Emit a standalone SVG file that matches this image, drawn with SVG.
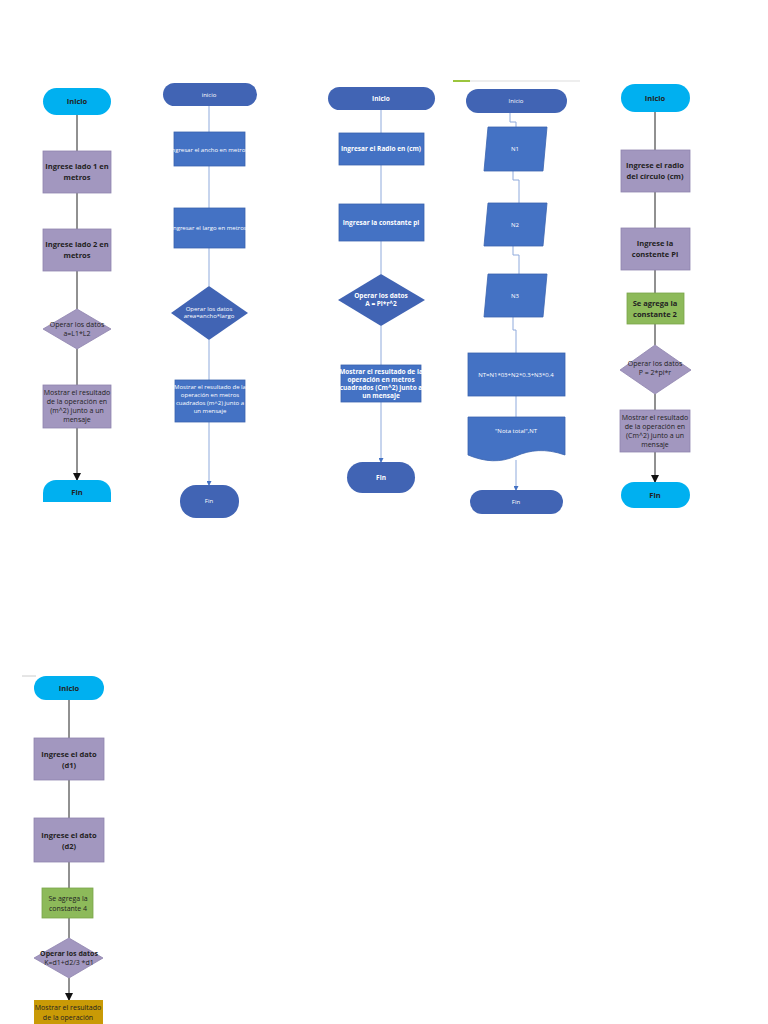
<svg xmlns="http://www.w3.org/2000/svg" width="768" height="1024" viewBox="0 0 768 1024">
<style>
text{font-family:"Open Sans","Liberation Sans",sans-serif;text-anchor:middle}
.cy{fill:#00B0F0}.pu{fill:#A297BF;stroke:#8F84AE;stroke-width:0.8}.gr{fill:#8DBA5A;stroke:#7AA64A;stroke-width:0.8}.or{fill:#C99A06}
.bl{fill:#4472C4;stroke:#3A63AE;stroke-width:0.8}.db{fill:#4164B4}
.tk{font-size:7.5px;font-weight:bold;fill:#222}.tn{font-size:7px;fill:#222}.tw{font-size:6px;fill:#fff}.twb{font-size:6.5px;fill:#fff;font-weight:bold}
.k{stroke:#222;stroke-width:1;fill:none;marker-end:url(#ak)}.b{stroke:#8FAADC;stroke-width:1;fill:none;marker-end:url(#ab)}
</style>
<defs>
<marker id="ak" markerWidth="8" markerHeight="8" refX="7" refY="4" orient="auto" markerUnits="userSpaceOnUse"><path d="M0,0L8,4L0,8z" fill="#111"/></marker>
<marker id="ab" markerWidth="5" markerHeight="5" refX="4" refY="2.5" orient="auto" markerUnits="userSpaceOnUse"><path d="M0,0L5,2.5L0,5z" fill="#4472C4"/></marker>
</defs>
<g id="connectors">
<path class="k" d="M77 115V151M77 193V229M77 271V309M77 349V385M77 428V480"/>
<path class="b" d="M209 106V132M209 166V208M209 248V286M209 340V380M209 422V485"/>
<path class="b" d="M381 110V133M381 165V204M381 241V274M381 326V365M381 402V462"/>
<path class="b" d="M510 113V122H516V127M513 171V180H519V203M513 246V255H519V274M513 317V330H516V353M516 396V417M516 460V490"/>
<path class="k" d="M655 112V150M655 192V228M655 270V293M655 324V345M655 394V410M655 452V482"/>
<path class="k" d="M69 700V738M69 780V818M69 862V888M69 918V938M69 978V1000"/>
<line x1="453" y1="81" x2="470" y2="81" stroke="#9BC53D" stroke-width="2"/>
<line x1="470" y1="81" x2="580" y2="81" stroke="#ddd" stroke-width="1"/>
<line x1="22" y1="676" x2="36" y2="676" stroke="#ccc" stroke-width="1"/>
</g>
<g id="c1-inicio"><rect class="cy" x="43" y="88" width="68" height="27" rx="13.5"/><text class="tk" x="77" y="104">Inicio</text></g>
<g id="c1-lado1"><rect class="pu" x="43" y="151" width="68" height="42"/><text class="tk" x="77" y="169">Ingrese lado 1 en</text><text class="tk" x="77" y="180">metros</text></g>
<g id="c1-lado2"><rect class="pu" x="43" y="229" width="68" height="42"/><text class="tk" x="77" y="247">Ingrese lado 2 en</text><text class="tk" x="77" y="258">metros</text></g>
<g id="c1-operar"><polygon class="pu" points="77,309 111,329 77,349 43,329"/><text class="tn" x="77" y="327">Operar los datos</text><text class="tn" x="77" y="336">a=L1*L2</text></g>
<g id="c1-mostrar"><rect class="pu" x="43" y="385" width="68" height="43"/><text class="tn" x="77" y="395">Mostrar el resultado</text><text class="tn" x="77" y="404">de la operación en</text><text class="tn" x="77" y="413">(m^2) junto a un</text><text class="tn" x="77" y="422">mensaje</text></g>
<g id="c1-fin"><path class="cy" d="M56 480H98A13 13 0 0 1 111 493V502H43V493A13 13 0 0 1 56 480z"/><text class="tk" x="77" y="495">Fin</text></g>

<g id="c2-inicio"><rect class="db" x="163" y="83" width="94" height="23" rx="11.5"/><text class="tw" x="209" y="97">inicio</text></g>
<g id="c2-ancho"><rect class="bl" x="174" y="132" width="71" height="34"/><text class="tw" x="209" y="152">Ingresar el ancho en metros</text></g>
<g id="c2-largo"><rect class="bl" x="174" y="208" width="71" height="40"/><text class="tw" x="209" y="230">Ingresar el largo en metros</text></g>
<g id="c2-operar"><polygon class="db" points="209,286 248,313 209,340 171,313"/><text class="tw" x="209" y="311">Operar los datos</text><text class="tw" x="209" y="318">area=ancho*largo</text></g>
<g id="c2-mostrar"><rect class="bl" x="175" y="380" width="70" height="42"/><text class="tw" x="210" y="389">Mostrar el resultado de la</text><text class="tw" x="210" y="397">operación en metros</text><text class="tw" x="210" y="405">cuadrados (m^2) junto a</text><text class="tw" x="210" y="413">un mensaje</text></g>
<g id="c2-fin"><rect class="db" x="180" y="485" width="59" height="33" rx="16"/><text class="tw" x="209" y="503">Fin</text></g>

<g id="c3-inicio"><rect class="db" x="328" y="87" width="107" height="23" rx="11.5"/><text class="twb" x="381" y="101">Inicio</text></g>
<g id="c3-radio"><rect class="bl" x="339" y="133" width="85" height="32"/><text class="twb" x="381" y="151">Ingresar el Radio en (cm)</text></g>
<g id="c3-pi"><rect class="bl" x="339" y="204" width="85" height="37"/><text class="twb" x="381" y="225">Ingresar la constante pi</text></g>
<g id="c3-operar"><polygon class="db" points="381,274 425,300 381,326 338,300"/><text class="twb" x="381" y="298">Operar los datos</text><text class="twb" x="381" y="306">A = Pi*r^2</text></g>
<g id="c3-mostrar"><rect class="bl" x="341" y="365" width="80" height="37"/><text class="twb" x="381" y="374">Mostrar el resultado de la</text><text class="twb" x="381" y="382">operación en metros</text><text class="twb" x="381" y="390">cuadrados (Cm^2) junto a</text><text class="twb" x="381" y="398">un mensaje</text></g>
<g id="c3-fin"><rect class="db" x="347" y="462" width="68" height="31" rx="15.5"/><text class="twb" x="381" y="480">Fin</text></g>

<g id="c4-inicio"><rect class="db" x="466" y="89" width="101" height="24" rx="12"/><text class="tw" x="516" y="103">Inicio</text></g>
<g id="c4-n1"><polygon class="bl" points="488,127 547,127 543,171 484,171"/><text class="tw" x="515" y="151">N1</text></g>
<g id="c4-n2"><polygon class="bl" points="488,203 547,203 543,246 484,246"/><text class="tw" x="515" y="227">N2</text></g>
<g id="c4-n3"><polygon class="bl" points="488,274 547,274 543,317 484,317"/><text class="tw" x="515" y="298">N3</text></g>
<g id="c4-nt"><rect class="bl" x="468" y="353" width="97" height="43"/><text class="tw" x="516" y="377">NT=N1*03+N2*0.3+N3*0.4</text></g>
<g id="c4-nota"><path class="bl" d="M468 417H565V455C545 448 530 450 516 456C500 463 485 462 468 455z"/><text class="tw" x="516" y="433">"Nota total",NT</text></g>
<g id="c4-fin"><rect class="db" x="470" y="490" width="93" height="24" rx="12"/><text class="tw" x="516" y="504">Fin</text></g>

<g id="c5-inicio"><rect class="cy" x="621" y="84" width="69" height="28" rx="14"/><text class="tk" x="655" y="101">Inicio</text></g>
<g id="c5-radio"><rect class="pu" x="621" y="150" width="69" height="42"/><text class="tk" x="655" y="168">Ingrese el radio</text><text class="tk" x="655" y="179">del círculo (cm)</text></g>
<g id="c5-pi"><rect class="pu" x="621" y="228" width="69" height="42"/><text class="tk" x="655" y="246">Ingrese la</text><text class="tk" x="655" y="257">constente Pi</text></g>
<g id="c5-const"><rect class="gr" x="627" y="293" width="57" height="31"/><text class="tk" x="655" y="306">Se agrega la</text><text class="tk" x="655" y="317">constante 2</text></g>
<g id="c5-operar"><polygon class="pu" points="655,345 691,370 655,394 620,370"/><text class="tn" x="655" y="366">Operar los datos</text><text class="tn" x="655" y="375">P = 2*pi*r</text></g>
<g id="c5-mostrar"><rect class="pu" x="620" y="410" width="70" height="42"/><text class="tn" x="655" y="420">Mostrar el resultado</text><text class="tn" x="655" y="429">de la operación en</text><text class="tn" x="655" y="438">(Cm^2) junto a un</text><text class="tn" x="655" y="447">mensaje</text></g>
<g id="c5-fin"><rect class="cy" x="621" y="482" width="69" height="26" rx="13"/><text class="tk" x="655" y="498">Fin</text></g>

<g id="b-inicio"><rect class="cy" x="34" y="676" width="70" height="24" rx="12"/><text class="tk" x="69" y="691">Inicio</text></g>
<g id="b-d1"><rect class="pu" x="34" y="738" width="70" height="42"/><text class="tk" x="69" y="757">Ingrese el dato</text><text class="tk" x="69" y="768">(d1)</text></g>
<g id="b-d2"><rect class="pu" x="34" y="818" width="70" height="44"/><text class="tk" x="69" y="838">Ingrese el dato</text><text class="tk" x="69" y="849">(d2)</text></g>
<g id="b-const"><rect class="gr" x="42" y="888" width="51" height="30"/><text class="tn" x="68" y="901">Se agrega la</text><text class="tn" x="68" y="911">constante 4</text></g>
<g id="b-operar"><polygon class="pu" points="69,938 103,958 69,978 34,958"/><text class="tn" x="69" y="956" font-weight="bold">Operar los datos</text><text class="tn" x="69" y="965">K=d1+d2/3 *d1</text></g>
<g id="b-mostrar"><rect class="or" x="34" y="1000" width="69" height="30"/><text class="tn" x="68" y="1010">Mostrar el resultado</text><text class="tn" x="68" y="1020">de la operación</text></g>
</svg>
